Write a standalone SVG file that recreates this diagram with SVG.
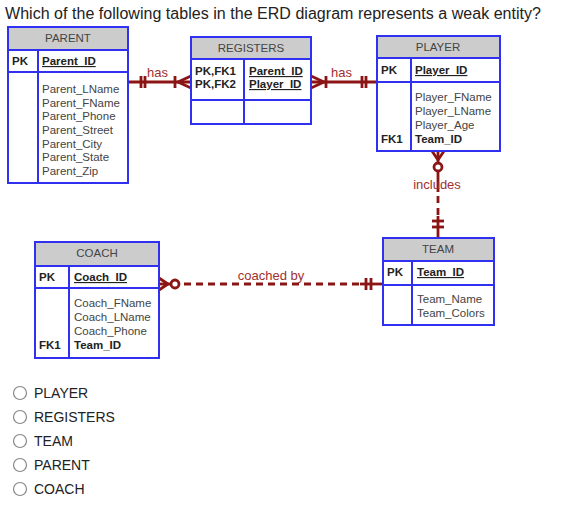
<svg xmlns="http://www.w3.org/2000/svg" width="561" height="509" viewBox="0 0 561 509">
<style>
.box{fill:#fff;stroke:#3030f0;stroke-width:2}
.hdr{fill:#cccccc;stroke:#3030f0;stroke-width:2}
.ln{stroke:#3030f0;stroke-width:2;fill:none}
.t{font-family:"Liberation Sans",Arial,sans-serif;font-size:11.5px;fill:#444}
.h{font-family:"Liberation Sans",Arial,sans-serif;font-size:11.5px;fill:#444;text-anchor:middle}
.b{font-family:"Liberation Sans",Arial,sans-serif;font-size:11.5px;fill:#222;font-weight:bold}
.u{text-decoration:underline}
.c{stroke:#8b1414;stroke-width:2.8;fill:none}
.d{stroke:#8b1414;stroke-width:2.8;fill:none;stroke-dasharray:7,5}
.cl{font-family:"Liberation Sans",Arial,sans-serif;font-size:13px;fill:#a03030}
.q{font-family:"Liberation Sans",Arial,sans-serif;font-size:16px;fill:#222}
.o{font-family:"Liberation Sans",Arial,sans-serif;font-size:14px;fill:#222}
.r{fill:#fff;stroke:#888;stroke-width:1.2}
</style>
<text class="q" x="5" y="19" textLength="536">Which of the following tables in the ERD diagram represents a weak entity?</text>

<g id="connectors">
  <!-- PARENT - REGISTERS -->
  <line class="c" x1="128" y1="82" x2="191" y2="82"/>
  <line class="c" x1="141" y1="76" x2="141" y2="88"/>
  <line class="c" x1="145" y1="76" x2="145" y2="88"/>
  <line class="c" x1="175" y1="76" x2="175" y2="88"/>
  <polyline class="c" points="191,76 178,82 191,88"/>
  <text class="cl" x="147" y="77">has</text>
  <!-- REGISTERS - PLAYER -->
  <line class="c" x1="311" y1="82" x2="377" y2="82"/>
  <polyline class="c" points="311,76 324,82 311,88"/>
  <line class="c" x1="326" y1="76" x2="326" y2="88"/>
  <line class="c" x1="362" y1="76" x2="362" y2="88"/>
  <line class="c" x1="366" y1="76" x2="366" y2="88"/>
  <text class="cl" x="331" y="77">has</text>
  <!-- PLAYER - TEAM includes -->
  <polyline class="c" points="432,151 438,160 444,151"/>
  <line class="c" x1="438" y1="151" x2="438" y2="163"/>
  <circle class="c" cx="438" cy="167" r="4"/>
  <line class="c" x1="438" y1="171" x2="438" y2="192"/>
  <line class="d" x1="438" y1="196" x2="438" y2="218"/>
  <line class="c" x1="438" y1="216" x2="438" y2="238"/>
  <line class="c" x1="432" y1="221" x2="444" y2="221"/>
  <line class="c" x1="432" y1="227" x2="444" y2="227"/>
  <text class="cl" x="437" y="189" text-anchor="middle">includes</text>
  <!-- COACH - TEAM coached by -->
  <polyline class="c" points="159,278 168,284 159,290"/>
  <line class="c" x1="159" y1="284" x2="171" y2="284"/>
  <circle class="c" cx="175" cy="284" r="4"/>
  <line class="d" x1="184" y1="284" x2="360" y2="284"/>
  <line class="c" x1="360" y1="284" x2="383" y2="284"/>
  <line class="c" x1="366" y1="278" x2="366" y2="290"/>
  <line class="c" x1="371" y1="278" x2="371" y2="290"/>
  <text class="cl" x="271" y="280" text-anchor="middle">coached by</text>
</g>

<g id="parent">
  <rect class="box" x="8" y="27" width="120" height="156"/>
  <rect class="hdr" x="8" y="27" width="120" height="23"/>
  <line class="ln" x1="8" y1="72" x2="128" y2="72"/>
  <line class="ln" x1="38" y1="50" x2="38" y2="183"/>
  <text class="h" x="68" y="42">PARENT</text>
  <text class="b" x="12" y="65">PK</text>
  <text class="b u" x="42" y="65">Parent_ID</text>
  <text class="t" x="42" y="93">Parent_LName</text>
  <text class="t" x="42" y="106.5">Parent_FName</text>
  <text class="t" x="42" y="120">Parent_Phone</text>
  <text class="t" x="42" y="134">Parent_Street</text>
  <text class="t" x="42" y="147.5">Parent_City</text>
  <text class="t" x="42" y="161">Parent_State</text>
  <text class="t" x="42" y="175">Parent_Zip</text>
</g>

<g id="registers">
  <rect class="box" x="191" y="37" width="120" height="87"/>
  <rect class="hdr" x="191" y="37" width="120" height="22"/>
  <line class="ln" x1="191" y1="100" x2="311" y2="100"/>
  <line class="ln" x1="244" y1="59" x2="244" y2="124"/>
  <text class="h" x="251" y="52">REGISTERS</text>
  <text class="b" x="195" y="75">PK,FK1</text>
  <text class="b" x="195" y="88">PK,FK2</text>
  <text class="b u" x="249" y="75">Parent_ID</text>
  <text class="b u" x="249" y="88">Player_ID</text>
</g>

<g id="player">
  <rect class="box" x="377" y="36" width="123" height="115"/>
  <rect class="hdr" x="377" y="36" width="123" height="22"/>
  <line class="ln" x1="377" y1="82" x2="500" y2="82"/>
  <line class="ln" x1="411" y1="58" x2="411" y2="151"/>
  <text class="h" x="438" y="51">PLAYER</text>
  <text class="b" x="381" y="74">PK</text>
  <text class="b u" x="415" y="74">Player_ID</text>
  <text class="t" x="415" y="101">Player_FName</text>
  <text class="t" x="415" y="115">Player_LName</text>
  <text class="t" x="415" y="129">Player_Age</text>
  <text class="b" x="381" y="143">FK1</text>
  <text class="b" x="415" y="143">Team_ID</text>
</g>

<g id="team">
  <rect class="box" x="383" y="238" width="111" height="87"/>
  <rect class="hdr" x="383" y="238" width="111" height="23"/>
  <line class="ln" x1="383" y1="285" x2="494" y2="285"/>
  <line class="ln" x1="412" y1="261" x2="412" y2="325"/>
  <text class="h" x="438" y="253">TEAM</text>
  <text class="b" x="387" y="276">PK</text>
  <text class="b u" x="417" y="276">Team_ID</text>
  <text class="t" x="417" y="303">Team_Name</text>
  <text class="t" x="417" y="317">Team_Colors</text>
</g>

<g id="coach">
  <rect class="box" x="35" y="242" width="124" height="116"/>
  <rect class="hdr" x="35" y="242" width="124" height="24"/>
  <line class="ln" x1="35" y1="288" x2="159" y2="288"/>
  <line class="ln" x1="69" y1="266" x2="69" y2="358"/>
  <text class="h" x="97" y="257">COACH</text>
  <text class="b" x="39" y="281">PK</text>
  <text class="b u" x="74" y="281">Coach_ID</text>
  <text class="t" x="74" y="307">Coach_FName</text>
  <text class="t" x="74" y="321">Coach_LName</text>
  <text class="t" x="74" y="335">Coach_Phone</text>
  <text class="b" x="39" y="349">FK1</text>
  <text class="b" x="74" y="349">Team_ID</text>
</g>

<g id="options">
  <circle class="r" cx="20" cy="393" r="6.5"/>
  <text class="o" x="34" y="398">PLAYER</text>
  <circle class="r" cx="20" cy="417" r="6.5"/>
  <text class="o" x="34" y="422">REGISTERS</text>
  <circle class="r" cx="20" cy="441" r="6.5"/>
  <text class="o" x="34" y="446">TEAM</text>
  <circle class="r" cx="20" cy="465" r="6.5"/>
  <text class="o" x="34" y="470">PARENT</text>
  <circle class="r" cx="20" cy="489" r="6.5"/>
  <text class="o" x="34" y="494">COACH</text>
</g>
</svg>
